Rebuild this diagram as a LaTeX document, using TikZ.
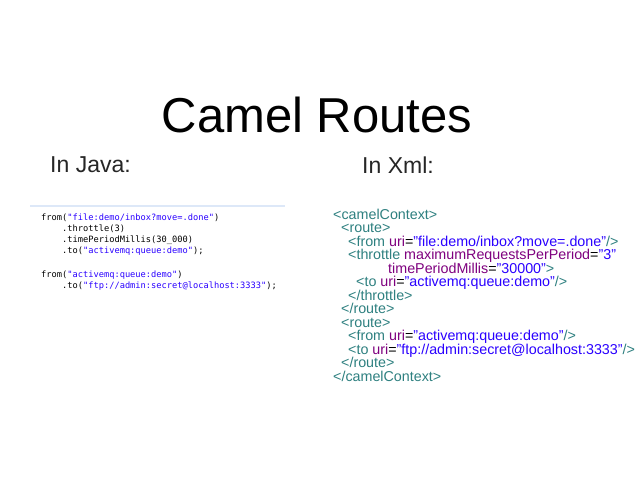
\documentclass[tikz,border=0pt]{standalone}
\usepackage{fontspec}
\setmainfont{Liberation Sans}
\setmonofont{DejaVu Sans Mono}
\definecolor{tagc}{HTML}{2E8080}
\definecolor{attc}{HTML}{7F007F}
\definecolor{valc}{HTML}{2A00FF}
\definecolor{lineblue}{HTML}{DDE8F8}
\newcommand{\tg}[1]{\textcolor{tagc}{#1}}
\newcommand{\at}[1]{\textcolor{attc}{#1}}
\newcommand{\vl}[1]{\textcolor{valc}{#1}}
\tikzset{xml/.style={anchor=base west,inner sep=0pt,font=\fontsize{14.3}{16}\selectfont},
java/.style={anchor=base west,inner sep=0pt,font=\ttfamily\fontsize{8.7}{10}\selectfont}}
\begin{document}
\begin{tikzpicture}[x=1pt,y=-1pt]
\useasboundingbox[fill=white] (0,0) rectangle (638,479);
\node[font=\fontsize{49}{56}\selectfont] (title) at (317,115) {Camel Routes};
\node[anchor=west,inner sep=0pt,font=\fontsize{23}{28}\selectfont,text=black!85] (java) at (50,165) {In Java:};
\node[anchor=west,inner sep=0pt,font=\fontsize{23}{28}\selectfont,text=black!85] (xmlh) at (362,165) {In Xml:};
\draw[lineblue,line width=1.5pt] (30,206) -- (285,206);
\node[java] (j1) at (41,220) {from(\vl{"file:demo/inbox?move=.done"})};
\node[java] (j2) at (41,231) {\ \ \ \ .throttle(3)};
\node[java] (j3) at (41,242) {\ \ \ \ .timePeriodMillis(30\_000)};
\node[java] (j4) at (41,253) {\ \ \ \ .to(\vl{"activemq:queue:demo"});};
\node[java] (j5) at (41,277) {from(\vl{"activemq:queue:demo"})};
\node[java] (j6) at (41,288) {\ \ \ \ .to(\vl{"ftp://admin:secret@localhost:3333"});};
\node[xml] (x1) at (333,219) {\tg{<camelContext>}};
\node[xml] (x2) at (341,232.5) {\tg{<route>}};
\node[xml] (x3) at (348,246) {\tg{<from} \at{uri}=\vl{"file:demo/inbox?move=.done"}\tg{/>}};
\node[xml] (x4) at (348,259.5) {\tg{<throttle} \at{maximumRequestsPerPeriod}=\vl{"3"}};
\node[xml] (x5) at (388,273) {\at{timePeriodMillis}=\vl{"30000"}\tg{>}};
\node[xml] (x6) at (356,286.5) {\tg{<to} \at{uri}=\vl{"activemq:queue:demo"}\tg{/>}};
\node[xml] (x7) at (348,300) {\tg{</throttle>}};
\node[xml] (x8) at (341,313.5) {\tg{</route>}};
\node[xml] (x9) at (341,327) {\tg{<route>}};
\node[xml] (x10) at (348,340.5) {\tg{<from} \at{uri}=\vl{"activemq:queue:demo"}\tg{/>}};
\node[xml] (x11) at (348,354) {\tg{<to} \at{uri}=\vl{"ftp://admin:secret@localhost:3333"}\tg{/>}};
\node[xml] (x12) at (341,367.5) {\tg{</route>}};
\node[xml] (x13) at (333,381) {\tg{</camelContext>}};
\end{tikzpicture}
\end{document}
